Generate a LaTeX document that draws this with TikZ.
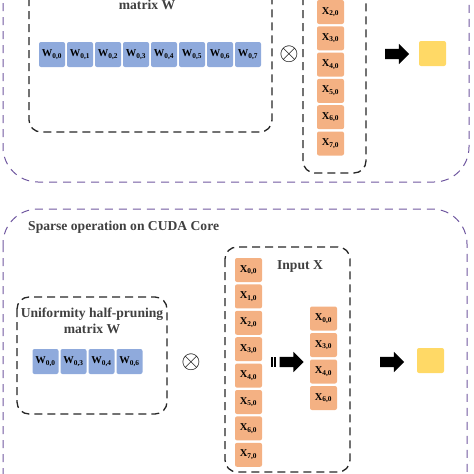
\documentclass[tikz,border=0pt]{standalone}
\usepackage{fontspec}
\setmainfont{Liberation Serif}
\usetikzlibrary{shapes.arrows}

\definecolor{wblue}{RGB}{143,170,220}
\definecolor{xorange}{RGB}{244,177,131}
\definecolor{outyellow}{RGB}{255,217,102}
\definecolor{panelpurple}{RGB}{112,88,160}
\definecolor{labelgray}{RGB}{64,64,64}

\newcommand{\wsub}[1]{\textbf{W}\textsubscript{\textbf{#1}}}
\newcommand{\xsub}[1]{\textbf{X}\textsubscript{\textbf{#1}}}

\begin{document}
\begin{tikzpicture}[x=1pt, y=-1pt,
    wcell/.style={rectangle, rounded corners=2pt, fill=wblue, minimum width=26pt, minimum height=25pt, inner sep=0pt, font=\fontsize{10.5}{10.5}\selectfont},
    xcell/.style={rectangle, rounded corners=2pt, fill=xorange, minimum width=27pt, minimum height=24pt, inner sep=0pt, font=\fontsize{10.5}{10.5}\selectfont},
    outcell/.style={rectangle, rounded corners=2pt, fill=outyellow, minimum width=27pt, minimum height=25pt, inner sep=0pt},
    panel/.style={draw=panelpurple, line width=1pt, dash pattern=on 8pt off 6pt, rounded corners=35pt},
    group/.style={draw=black!85, line width=1.3pt, dash pattern=on 8pt off 5pt, rounded corners=12pt},
    title/.style={text=labelgray, font=\bfseries\fontsize{13.6}{16}\selectfont, align=center, inner sep=0pt},
    mul/.style={font=\fontsize{24}{24}\selectfont, inner sep=0pt},
    bigarrow/.style={single arrow, fill=black, inner sep=5pt, minimum height=24pt, single arrow head extend=5pt}]
    \useasboundingbox (0,0) rectangle (474,474);
    \clip (0,0) rectangle (474,474);

    % dense operation (top panel)
    \draw[panel] (3,-60) rectangle (469,182);
    \draw[group] (29,-40) rectangle (272,132);
    \draw[group] (303,-80) rectangle (366,173);
    \node[title] (tw) at (147,5) {matrix W};

    \node[wcell] (tw0) at (52,54.5) {\wsub{0,0}};
    \node[wcell] (tw1) at (80,54.5) {\wsub{0,1}};
    \node[wcell] (tw2) at (108,54.5) {\wsub{0,2}};
    \node[wcell] (tw3) at (136,54.5) {\wsub{0,3}};
    \node[wcell] (tw4) at (164,54.5) {\wsub{0,4}};
    \node[wcell] (tw5) at (192,54.5) {\wsub{0,5}};
    \node[wcell] (tw6) at (220,54.5) {\wsub{0,6}};
    \node[wcell] (tw7) at (248,54.5) {\wsub{0,7}};

    \node[mul] (tmul) at (289,54) {$\otimes$};

    \node[xcell] (tx2) at (330.5,12) {\xsub{2,0}};
    \node[xcell] (tx3) at (330.5,38.3) {\xsub{3,0}};
    \node[xcell] (tx4) at (330.5,64.6) {\xsub{4,0}};
    \node[xcell] (tx5) at (330.5,90.9) {\xsub{5,0}};
    \node[xcell] (tx6) at (330.5,117.2) {\xsub{6,0}};
    \node[xcell] (tx7) at (330.5,143.5) {\xsub{7,0}};

    \node[bigarrow] (tarr) at (394.5,54) {};
    \node[outcell] (tout) at (432.5,53.5) {};

    % sparse operation (bottom panel)
    \draw[panel] (3,209) rectangle (467,540);
    \node[title, anchor=west] (bt) at (28,227) {Sparse operation on CUDA Core};
    \draw[group] (17,297) rectangle (167,414);
    \node[title] (bw) at (92,321) {Uniformity half-pruning\\matrix W};
    \draw[group] (225,247) rectangle (350,472);
    \node[title] (bx) at (300,266) {Input X};

    \node[wcell] (bw0) at (45.5,361.5) {\wsub{0,0}};
    \node[wcell] (bw3) at (73.5,361.5) {\wsub{0,3}};
    \node[wcell] (bw4) at (101.5,361.5) {\wsub{0,4}};
    \node[wcell] (bw6) at (129.5,361.5) {\wsub{0,6}};

    \node[mul] (bmul) at (191,362) {$\otimes$};

    \node[xcell] (bx0) at (248.5,270) {\xsub{0,0}};
    \node[xcell] (bx1) at (248.5,296.4) {\xsub{1,0}};
    \node[xcell] (bx2) at (248.5,322.8) {\xsub{2,0}};
    \node[xcell] (bx3) at (248.5,349.2) {\xsub{3,0}};
    \node[xcell] (bx4) at (248.5,375.6) {\xsub{4,0}};
    \node[xcell] (bx5) at (248.5,402) {\xsub{5,0}};
    \node[xcell] (bx6) at (248.5,428.4) {\xsub{6,0}};
    \node[xcell] (bx7) at (248.5,454.8) {\xsub{7,0}};

    \node[bigarrow] (barr) at (289,362) {};
    \fill (271,357) rectangle (272.5,367);
    \fill (274,357) rectangle (275.5,367);

    \node[xcell] (bs0) at (323.5,318.5) {\xsub{0,0}};
    \node[xcell] (bs3) at (323.5,345) {\xsub{3,0}};
    \node[xcell] (bs4) at (323.5,371.5) {\xsub{4,0}};
    \node[xcell] (bs6) at (323.5,398) {\xsub{6,0}};

    \node[bigarrow] (barr2) at (389.5,362) {};
    \node[outcell] (bout) at (430.5,360.5) {};

\end{tikzpicture}
\end{document}
